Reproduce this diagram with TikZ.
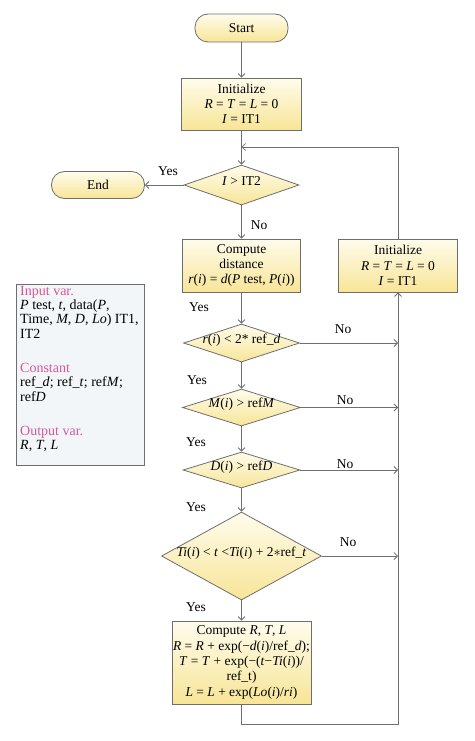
\documentclass[tikz,border=0pt]{standalone}
\usepackage{fontspec}
\setmainfont{Liberation Serif}
\usetikzlibrary{shapes.geometric,arrows.meta}
\definecolor{ln}{HTML}{6E6E6E}
\definecolor{fillTop}{HTML}{FFFCEC}
\definecolor{fillBot}{HTML}{F7E597}
\definecolor{pinkc}{RGB}{214,88,150}
\definecolor{infofill}{HTML}{F3F6F9}
\newcommand{\vi}[1]{\textit{#1}}
\begin{document}
\begin{tikzpicture}[x=1pt,y=-1pt,font=\fontsize{13.5}{15.3}\selectfont,
  box/.style={draw=ln,line width=0.8pt,top color=fillTop,bottom color=fillBot,align=center,inner sep=1pt},
  pill/.style={box,rounded corners=13pt},
  dia/.style={draw=ln,line width=0.8pt,top color=fillTop,bottom color=fillBot,diamond,inner sep=0pt},
  conn/.style={draw=ln,line width=0.8pt},
  arr/.style={conn,-{Straight Barb[length=3.5pt,width=7pt]}},
  lbl/.style={inner sep=0pt}
]
\useasboundingbox (0,0) rectangle (474,741);

% nodes
\node[pill,minimum width=93pt,minimum height=28pt] (start) at (241.5,28) {Start};
\node[box,minimum width=120pt,minimum height=52pt] (init) at (241.5,104) {Initialize\\ \vi{R} = \vi{T} = \vi{L} = 0\\ \vi{I} = IT1};
\node[dia,minimum width=115pt,minimum height=40pt] (d0) at (241.5,185) {\smash{\makebox[0pt]{\vi{I} > IT2}}};
\node[pill,minimum width=93pt,minimum height=27pt] (end) at (98,185) {End};
\node[box,minimum width=118pt,minimum height=53pt] (cd) at (241.5,265.5) {Compute\\ distance\\ \vi{r}(\vi{i}) = \vi{d}(\vi{P} test, \vi{P}(\vi{i}))};
\node[box,minimum width=119pt,minimum height=53pt] (init2) at (398,265.5) {Initialize\\ \vi{R} = \vi{T} = \vi{L} = 0\\ \vi{I} = IT1};
\node[dia,minimum width=116pt,minimum height=38pt] (d1) at (241.5,343) {\smash{\makebox[0pt]{\vi{r}(\vi{i}) < 2* ref\_\vi{d}}}};
\node[dia,minimum width=118pt,minimum height=37pt] (d2) at (241.5,407.5) {\smash{\makebox[0pt]{\vi{M}(\vi{i}) > ref\vi{M}}}};
\node[dia,minimum width=117pt,minimum height=36pt] (d3) at (241.5,470) {\smash{\makebox[0pt]{\vi{D}(\vi{i}) > ref\vi{D}}}};
\node[dia,minimum width=160pt,minimum height=88pt] (d4) at (241.5,556) {\smash{\makebox[0pt]{\vi{Ti}(\vi{i}) < \vi{t} <\vi{Ti}(\vi{i}) + 2$\ast$ref\_\vi{t}}}};
\node[box,minimum width=139pt,minimum height=83pt] (crtl) at (241.5,662.5) {Compute \vi{R}, \vi{T}, \vi{L}\\ \vi{R} = \vi{R} + exp(−\vi{d}(\vi{i})/ref\_\vi{d});\\ \vi{T} = \vi{T} + exp(−(\vi{t}−\vi{Ti}(\vi{i}))/\\ ref\_t)\\ \vi{L} = \vi{L} + exp(\vi{Lo}(\vi{i})/\vi{ri})};

% info box
\node[draw=ln,fill=infofill,line width=0.8pt,minimum width=128pt,minimum height=181pt,anchor=north west,inner sep=0pt] (info) at (16,284) {};
\node[anchor=north west,align=left,inner sep=0pt,font=\fontsize{14}{14.3}\selectfont] (infotext) at (20,286) {{\color{pinkc}Input var.}\\
\vi{P} test, \vi{t}, data(\vi{P},\\
Time, \vi{M}, \vi{D}, \vi{Lo}) IT1,\\
IT2\\[20pt]
{\color{pinkc}Constant}\\
ref\_\vi{d}; ref\_\vi{t}; ref\vi{M};\\
ref\vi{D}\\[20pt]
{\color{pinkc}Output var.}\\
\vi{R}, \vi{T}, \vi{L}};

% helper coordinates
\coordinate (tj) at (241.5,147);
\coordinate (bl) at (241.5,724);

% connectors
\draw[arr] (start) -- (init);
\draw[arr] (init) -- (d0);
\draw[arr] (d0) -- (end);
\draw[arr] (d0) -- (cd);
\draw[arr] (cd) -- (d1);
\draw[arr] (d1) -- (d2);
\draw[arr] (d2) -- (d3);
\draw[arr] (d3) -- (d4);
\draw[arr] (d4) -- (crtl);
\draw[arr] (crtl.south) -- (bl) -| (init2.south);
\draw[arr] (init2.north) |- (tj);
\draw[arr] (d1.east) -- (d1.east -| init2.south);
\draw[arr] (d2.east) -- (d2.east -| init2.south);
\draw[arr] (d3.east) -- (d3.east -| init2.south);
\draw[arr] (d4.east) -- (d4.east -| init2.south);

% labels
\node[lbl] (y0) at (168,171) {Yes};
\node[lbl] (n0) at (259,225) {No};
\node[lbl] (y1) at (199,307) {Yes};
\node[lbl] (y2) at (197,380) {Yes};
\node[lbl] (y3) at (196,442) {Yes};
\node[lbl] (y4) at (196,507) {Yes};
\node[lbl] (y5) at (196,607) {Yes};
\node[lbl] (n1) at (343,329) {No};
\node[lbl] (n2) at (345,400) {No};
\node[lbl] (n3) at (345,464) {No};
\node[lbl] (n4) at (348,542) {No};
\end{tikzpicture}
\end{document}
